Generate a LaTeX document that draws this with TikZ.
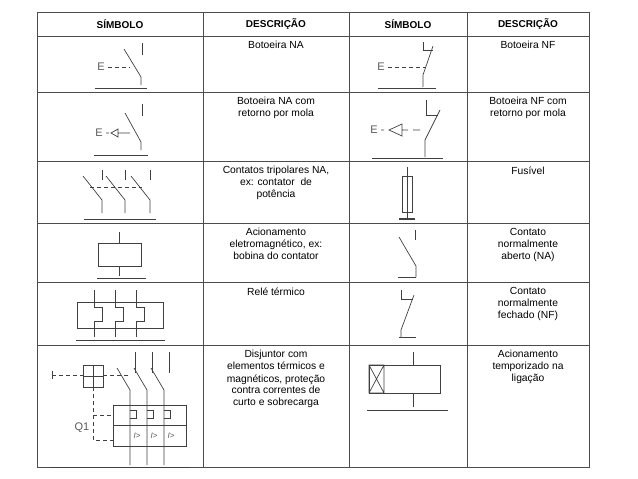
\documentclass[tikz,border=0pt]{standalone}
\usepackage{fontspec}
\setmainfont{Liberation Sans}
\begin{document}
\begin{tikzpicture}[x=1pt,y=-1pt,
  grid/.style={draw=black!70,line width=0.8pt},
  sym/.style={draw=black!75,line width=0.7pt},
  dsh/.style={sym,dash pattern=on 4pt off 3pt},
  hdr/.style={font=\bfseries\fontsize{10}{11}\selectfont,anchor=center},
  desc/.style={font=\fontsize{10.3}{12}\selectfont,align=center,anchor=north},
  lbl/.style={font=\fontsize{11}{12}\selectfont,text=black!65,inner sep=0}]
\useasboundingbox (0,0) rectangle (638,479);
% grid
\draw[grid] (37,12) rectangle (589,467);
\foreach \x in {203,349,467} \draw[grid] (\x,12) -- (\x,467);
\foreach \y in {36,92,161,223,282,345} \draw[grid] (37,\y) -- (589,\y);
% headers
\node[hdr] (h1) at (120,24) {SÍMBOLO};
\node[hdr] (h2) at (276,24) {DESCRIÇÃO};
\node[hdr] (h3) at (408,24) {SÍMBOLO};
\node[hdr] (h4) at (528,24) {DESCRIÇÃO};
% descriptions
\node[desc] (d1) at (276,38) {Botoeira NA};
\node[desc] (d2) at (276,94) {Botoeira NA com\\retorno por mola};
\node[desc] (d3) at (276,163) {Contatos tripolares NA,\\ex: contator\ \ de\\potência};
\node[desc] (d4) at (276,225) {Acionamento\\eletromagnético, ex:\\bobina do contator};
\node[desc] (d5) at (276,284) {Relé térmico};
\node[desc] (d6) at (276,347) {Disjuntor com\\elementos térmicos e\\magnéticos, proteção\\contra correntes de\\curto e sobrecarga};
\node[desc] (e1) at (528,38) {Botoeira NF};
\node[desc] (e2) at (528,94) {Botoeira NF com\\retorno por mola};
\node[desc] (e3) at (528,163) {Fusível};
\node[desc] (e4) at (528,225) {Contato\\normalmente\\aberto (NA)};
\node[desc] (e5) at (528,284) {Contato\\normalmente\\fechado (NF)};
\node[desc] (e6) at (528,347) {Acionamento\\temporizado na\\ligação};
% Row1 left: Botoeira NA
\node[lbl] (E1) at (101,67) {E};
\draw[dsh] (108,67) -- (130,67);
\draw[sym] (124,49) -- (141,77) -- (141,85);
\draw[sym] (142,43) -- (142,55);
\draw[sym] (95,88) -- (147,88);
% Row2 left
\node[lbl] (E2) at (99,133) {E};
\draw[sym] (106,133) -- (109,133) (111,133) -- (118,129) -- (118,137) -- cycle (118,133) -- (130,133);
\draw[sym] (125,113) -- (141,142) -- (141,150);
\draw[sym] (142,104) -- (142,116);
\draw[sym] (94,155) -- (148,155);
% Row3 left: tripolar
\foreach \x in {102,125,150}{
  \draw[sym] (\x,170) -- (\x,180);
  \draw[sym] (\x-19,176) -- (\x,200) -- (\x,213);
}
\draw[dsh] (90,187) -- (142,187);
\draw[sym] (84,219) -- (156,219);
% Row4 left: coil
\draw[sym] (98,243) rectangle (141,266);
\draw[sym] (119,232) -- (119,243) (119,266) -- (119,276);
\draw[sym] (97,278) -- (146,278);
% Row5 left: thermal relay
\draw[sym] (77,302) rectangle (163,328);
\foreach \x in {94,115,136}{
  \draw[sym] (\x,290) -- (\x,307) -- (\x+8,307) -- (\x+8,321) -- (\x,321) -- (\x,337);
}
\draw[sym] (76,340) -- (165,340);
% Row6 left: disjuntor
\foreach \x in {135,152,169}{
  \draw[sym] (\x,352) -- (\x,373);
  \draw[sym] (\x-18,368) -- (\x-5,390) -- (\x-5,465);
}
\draw[sym] (113,405) rectangle (186,425);
\draw[sym] (113,425) rectangle (186,446);
\foreach \x in {130,147,164}{
  \draw[sym] (\x,410) -- (\x+6,410) -- (\x+6,418) -- (\x,418);
}
\foreach \x/\n in {130/a,147/b,164/c} \node[lbl,font=\fontsize{8}{9}\selectfont] (i\n) at (\x+7,436) {\textit{I}>};
\draw[sym] (52,371) -- (52,379);
\draw[dsh] (52,375) -- (83,375) (103,375) -- (130,375);
\draw[sym] (83,365) rectangle (103,387) (83,376) -- (103,376) (93,365) -- (93,387);
\draw[dsh] (93,387) -- (93,440) -- (113,440) (93,415) -- (113,415);
\node[lbl] (Q1) at (82,428) {Q1};
\draw[sym] (50,467) -- (190,467);
% Row1 right: Botoeira NF
\node[lbl] (E3) at (381,67) {E};
\draw[dsh] (388,67) -- (426,67);
\draw[sym] (423,42) -- (423,50) -- (433,50);
\draw[sym] (433,46) -- (423,75) -- (423,87);
\draw[sym] (378,88) -- (436,88);
% Row2 right
\node[lbl] (E4) at (374,130) {E};
\draw[sym] (381,130) -- (384,130) (389,130) -- (402,124) -- (402,136) -- cycle (402,130) -- (408,130) (413,130) -- (420,130);
\draw[sym] (426,100) -- (426,115) -- (438,115);
\draw[sym] (440,110) -- (425,140) -- (425,157);
\draw[sym] (372,158) -- (443,158);
% Row3 right: fuse
\draw[sym] (402,176) rectangle (412,212);
\draw[sym] (407,167) -- (407,219);
\draw[sym,line width=1.5pt] (399,219) -- (415,219);
% Row4 right: NA
\draw[sym] (415,230) -- (415,240);
\draw[sym] (399,237) -- (416,266) -- (416,277);
\draw[sym] (398,277) -- (416,277);
% Row5 right: NF
\draw[sym] (401,290) -- (401,299) -- (413,299);
\draw[sym] (414,295) -- (401,330) -- (401,337);
\draw[sym] (399,337) -- (416,337);
% Row6 right: timed coil
\draw[sym] (369,365) rectangle (440,393);
\draw[sym] (369,365) rectangle (384,393) (369,365) -- (384,393) (384,365) -- (369,393);
\draw[sym] (413,352) -- (413,365) (413,393) -- (413,407);
\draw[sym] (367,410) -- (448,410);
\end{tikzpicture}
\end{document}
